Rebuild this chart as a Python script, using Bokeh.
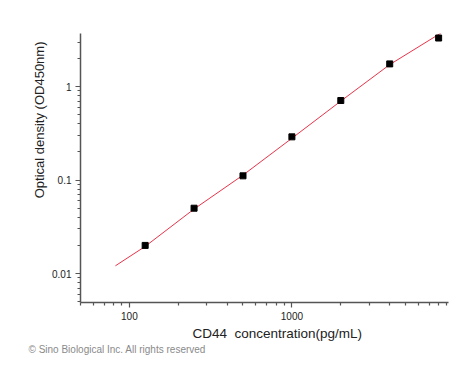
from bokeh.plotting import figure
from bokeh.models import FixedTicker, Range1d, Title
from bokeh.embed import file_html
from bokeh.resources import INLINE

# Data
conc = [125, 250, 500, 1000, 2000, 4000, 8000]
od = [0.020, 0.050, 0.111, 0.29, 0.71, 1.75, 3.31]

fit_x = [82, 125, 250, 500, 1000, 2000, 4000, 8340]
fit_y = [0.0121, 0.0195, 0.049, 0.113, 0.28, 0.70, 1.72, 3.78]

x_ticks = [100, 1000]
y_ticks = [0.01, 0.1, 1]
x_tick_labels = ["100", "1000"]
y_tick_labels = ["0.01", "0.1", "1"]

x_title = "CD44\u00a0 concentration(pg/mL)"
y_title = "Optical density (OD450nm)"
copyright_text = "\u00a9 Sino Biological Inc. All rights reserved"

FONT = "Liberation Sans"
AXIS_COLOR = "#555555"

p = figure(width=466, height=359, x_axis_type="log", y_axis_type="log",
           x_range=Range1d(50, 9200), y_range=Range1d(0.0049, 3.7),
           output_backend="svg", toolbar_location=None,
           min_border_left=80, min_border_right=18, min_border_top=33, min_border_bottom=57)
p.outline_line_color = None
p.grid.visible = False
p.background_fill_color = "white"
p.border_fill_color = "white"

def minors(lo_exp, hi_exp):
    out = []
    for e in range(lo_exp, hi_exp + 1):
        for m in range(2, 10):
            out.append(m * 10.0 ** e)
    return out

p.xaxis.ticker = FixedTicker(ticks=x_ticks, minor_ticks=minors(1, 3))
p.yaxis.ticker = FixedTicker(ticks=y_ticks, minor_ticks=minors(-3, 0))
p.xaxis.major_label_overrides = {t: s for t, s in zip(x_ticks, x_tick_labels)}
p.yaxis.major_label_overrides = {t: s for t, s in zip(y_ticks, y_tick_labels)}

for ax in (p.xaxis, p.yaxis):
    ax.axis_line_color = AXIS_COLOR
    ax.axis_line_width = 1.5
    ax.major_tick_line_color = AXIS_COLOR
    ax.minor_tick_line_color = AXIS_COLOR
    ax.major_tick_line_width = 1.2
    ax.minor_tick_line_width = 1.2
    ax.major_tick_out = 5
    ax.major_tick_in = 0
    ax.minor_tick_out = 3
    ax.minor_tick_in = 0
    ax.major_label_text_font = FONT
    ax.major_label_text_font_size = "10px"
    ax.major_label_text_color = "#222222"
    ax.major_label_standoff = 4

p.line(fit_x, fit_y, line_color="#e8344a", line_width=1)
p.scatter(conc, od, marker="square", size=6, fill_color="black", line_color="black")

ytitle = Title(text=y_title, align="right", offset=8, standoff=6,
               text_font=FONT, text_font_size="13px", text_font_style="normal",
               text_color="#222222")
p.add_layout(ytitle, "left")

xtitle = Title(text=x_title, align="left", offset=112, standoff=2,
               text_font=FONT, text_font_size="13.5px", text_font_style="normal",
               text_color="#222222")
p.add_layout(xtitle, "below")

ctitle = Title(text=copyright_text, align="left", offset=-52, standoff=0,
               text_font=FONT, text_font_size="10px", text_font_style="normal",
               text_color="#8a8a8a")
p.add_layout(ctitle, "below")

open("out.html", "w").write(file_html(p, INLINE))
